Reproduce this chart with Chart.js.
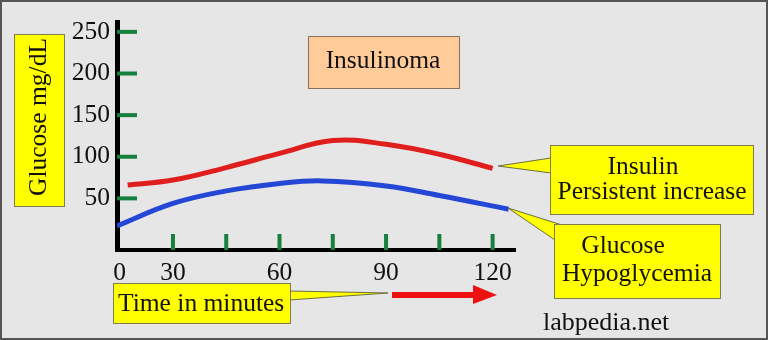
<!DOCTYPE html>
<html>
<head>
<meta charset="utf-8">
<title>Insulinoma</title>
<script src="https://cdn.jsdelivr.net/npm/chart.js@4.4.0/dist/chart.umd.min.js"></script>
<style>
  html, body { margin: 0; padding: 0; background: #e6e6e6; }
  #wrap { width: 768px; height: 340px; }
</style>
</head>
<body>
<div id="wrap"><canvas id="myChart" width="768" height="340"></canvas></div>
<script>
// x runs in tick steps; the axis labels are put on some of those steps
var xTickPositions = [0, 1, 3, 5, 7];
var xTickLabels = ['0', '30', '60', '90', '120'];
var xMarks = [1, 2, 3, 4, 5, 6, 7];
var yTickValues = [50, 100, 150, 200, 250];

// insulin curve (red)
var insulinX = [0.15, 1, 2, 3, 4, 5, 6, 7];
var insulinY = [66, 72, 87, 104, 119.5, 115, 103, 86];
// glucose curve (blue)
var glucoseX = [-0.05, 1, 2, 3, 3.8, 5, 6, 7.3];
var glucoseY = [17, 44, 59, 68, 71, 65, 53.5, 37];

var serif = '"Liberation Serif", "Times New Roman", serif';

function toPoints(xs, ys) {
    return xs.map(function(x, i) { return {x: x, y: ys[i]}; });
}

function box(ctx, x, y, w, h, fill, stroke) {
    ctx.fillStyle = fill;
    ctx.fillRect(x, y, w, h);
    ctx.strokeStyle = stroke;
    ctx.lineWidth = 1;
    ctx.strokeRect(x + 0.5, y + 0.5, w, h);
}

function pointer(ctx, pts, fill, stroke) {
    ctx.beginPath();
    ctx.moveTo(pts[0][0], pts[0][1]);
    for (var i = 1; i < pts.length; i++) ctx.lineTo(pts[i][0], pts[i][1]);
    ctx.closePath();
    ctx.fillStyle = fill;
    ctx.fill();
    ctx.strokeStyle = stroke;
    ctx.lineWidth = 1;
    ctx.stroke();
}

function text(ctx, str, x, y, align) {
    ctx.fillStyle = '#111';
    ctx.textAlign = align || 'center';
    ctx.textBaseline = 'alphabetic';
    ctx.fillText(str, x, y);
}

var backdrop = {
    id: 'backdrop',
    beforeDraw: function(chart) {
        var ctx = chart.ctx;
        ctx.save();
        ctx.fillStyle = '#e6e6e6';
        ctx.fillRect(0, 0, chart.width, chart.height);
        ctx.restore();
    }
};

var notes = {
    id: 'notes',
    afterDraw: function(chart) {
        var ctx = chart.ctx;
        var xs = chart.scales.x, ys = chart.scales.y;
        var area = chart.chartArea;
        ctx.save();

        // green tick marks inside the axes
        ctx.fillStyle = '#17803f';
        yTickValues.forEach(function(v) {
            var py = ys.getPixelForValue(v);
            ctx.fillRect(area.left, py - 2, 20, 4);
        });
        xMarks.forEach(function(v) {
            var px = xs.getPixelForValue(v);
            ctx.fillRect(px - 2, area.bottom - 16, 4, 16);
        });

        ctx.font = '25.5px ' + serif;

        // y axis title
        box(ctx, 14, 34, 50, 172, '#ffff00', '#7d7d50');
        ctx.save();
        ctx.translate(46, 117);
        ctx.rotate(-Math.PI / 2);
        text(ctx, 'Glucose mg/dL', 0, 0);
        ctx.restore();

        // title
        box(ctx, 308, 36, 151, 52, '#ffcc99', '#8a7060');
        text(ctx, 'Insulinoma', 383, 68);

        // insulin label
        pointer(ctx, [[551, 158], [498, 166], [551, 173]], '#ffff00', '#6e6e40');
        box(ctx, 550, 145, 203, 69, '#ffff00', '#7d7d50');
        text(ctx, 'Insulin', 643, 174);
        text(ctx, 'Persistent increase', 652, 199);

        // glucose label
        pointer(ctx, [[562, 225], [508, 208], [555, 240]], '#ffff00', '#6e6e40');
        box(ctx, 554, 224, 166, 74, '#ffff00', '#7d7d50');
        text(ctx, 'Glucose', 623, 253);
        text(ctx, 'Hypoglycemia', 637, 281);

        // time label with arrow
        pointer(ctx, [[289, 291], [388, 293], [289, 300]], '#ffff00', '#6e6e40');
        box(ctx, 113, 283, 177, 40, '#ffff00', '#7d7d50');
        text(ctx, 'Time in minutes', 118, 311, 'left');

        ctx.fillStyle = '#ee1111';
        ctx.fillRect(392, 292, 84, 6);
        ctx.beginPath();
        ctx.moveTo(473, 285);
        ctx.lineTo(497, 295);
        ctx.lineTo(473, 304);
        ctx.closePath();
        ctx.fill();

        ctx.font = '26px ' + serif;
        text(ctx, 'labpedia.net', 543, 330, 'left');

        // frame
        ctx.strokeStyle = '#555';
        ctx.lineWidth = 2;
        ctx.strokeRect(1, 1, chart.width - 2, chart.height - 2);
        ctx.restore();
    }
};

var ctx = document.getElementById('myChart');
var myChart = new Chart(ctx, {
    type: 'line',
    data: {
        datasets: [{
            label: 'Insulin',
            data: toPoints(insulinX, insulinY),
            borderColor: '#e01e1e',
            borderWidth: 5,
            pointRadius: 0,
            tension: 0.4,
            borderCapStyle: 'butt'
        }, {
            label: 'Glucose',
            data: toPoints(glucoseX, glucoseY),
            borderColor: '#2447d6',
            borderWidth: 5,
            pointRadius: 0,
            tension: 0.4,
            borderCapStyle: 'butt'
        }]
    },
    options: {
        responsive: false,
        animation: false,
        layout: { padding: { left: 0, right: 253, top: 17, bottom: 0 } },
        plugins: { legend: { display: false }, tooltip: { enabled: false } },
        scales: {
            x: {
                type: 'linear',
                min: -0.05,
                max: 7.42,
                grid: { display: false, drawTicks: false },
                border: { display: true, color: '#000', width: 4 },
                afterFit: function(scale) { scale.height = 90; },
                afterBuildTicks: function(scale) {
                    scale.ticks = xTickPositions.map(function(v) { return {value: v}; });
                },
                ticks: {
                    autoSkip: false,
                    maxRotation: 0,
                    padding: 8,
                    color: '#111',
                    font: { family: serif, size: 25.5 },
                    callback: function(value) {
                        var i = xTickPositions.indexOf(value);
                        return i < 0 ? '' : xTickLabels[i];
                    }
                }
            },
            y: {
                type: 'linear',
                min: -12,
                max: 261.5,
                grid: { display: false, drawTicks: false },
                border: { display: true, color: '#000', width: 5 },
                afterFit: function(scale) { scale.width = 117; },
                afterBuildTicks: function(scale) {
                    scale.ticks = yTickValues.map(function(v) { return {value: v}; });
                },
                ticks: {
                    padding: 7,
                    color: '#111',
                    font: { family: serif, size: 25.5 }
                }
            }
        }
    },
    plugins: [backdrop, notes]
});
</script>
</body>
</html>
